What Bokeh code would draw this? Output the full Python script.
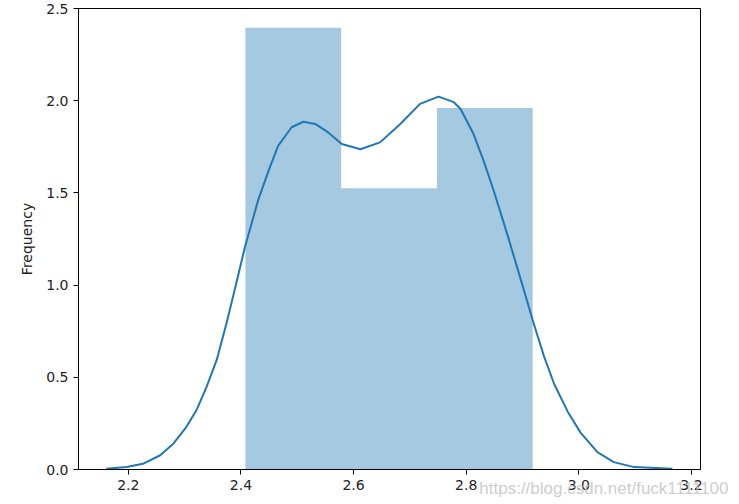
from bokeh.plotting import figure
from bokeh.models import Range1d, Title, FixedTicker, PrintfTickFormatter
from bokeh.embed import file_html
from bokeh.resources import INLINE

# Histogram (density) data
bin_edges = [2.408, 2.578, 2.748, 2.918]
density = [2.396, 1.525, 1.961]

# KDE curve
kde_x = [2.161, 2.197, 2.226, 2.256, 2.280, 2.303, 2.321, 2.339, 2.357, 2.375,
         2.391, 2.407, 2.431, 2.449, 2.466, 2.490, 2.511, 2.532, 2.555, 2.579,
         2.612, 2.647, 2.683, 2.718, 2.751, 2.778, 2.790, 2.813, 2.831, 2.849,
         2.873, 2.896, 2.920, 2.938, 2.956, 2.980, 3.003, 3.033, 3.062, 3.098,
         3.166]
kde_y = [0.004, 0.013, 0.031, 0.076, 0.140, 0.230, 0.321, 0.448, 0.594, 0.800,
         1.000, 1.205, 1.465, 1.619, 1.755, 1.856, 1.886, 1.874, 1.828, 1.765,
         1.737, 1.774, 1.874, 1.983, 2.022, 1.992, 1.955, 1.819, 1.674, 1.510,
         1.275, 1.039, 0.790, 0.615, 0.465, 0.315, 0.200, 0.094, 0.040, 0.013,
         0.004]

x_ticks = [2.2, 2.4, 2.6, 2.8, 3.0, 3.2]
y_ticks = [0.0, 0.5, 1.0, 1.5, 2.0, 2.5]
y_label = "Frequency"
watermark = "https://blog.csdn.net/fuck1111100"

p = figure(width=731, height=501, output_backend="svg", toolbar_location=None,
           x_range=Range1d(2.1116, 3.216), y_range=Range1d(0, 2.5),
           min_border_left=78, min_border_right=31, min_border_top=8,
           min_border_bottom=32)

p.quad(left=bin_edges[:-1], right=bin_edges[1:], top=density, bottom=0,
       fill_color="#1f77b4", fill_alpha=0.4, line_color=None)
p.line(kde_x, kde_y, line_color="#1f77b4", line_width=2, line_join="round")

p.grid.visible = False
p.outline_line_color = "black"
p.outline_line_alpha = 1
p.outline_line_width = 1
p.background_fill_color = "white"
p.border_fill_color = "white"

for ax, ticks in ((p.xaxis, x_ticks), (p.yaxis, y_ticks)):
    ax.ticker = FixedTicker(ticks=ticks)
    ax.formatter = PrintfTickFormatter(format="%.1f")
    ax.minor_tick_line_color = None
    ax.major_tick_out = 5
    ax.major_tick_in = 0
    ax.axis_line_color = "black"
    ax.major_tick_line_color = "black"
    ax.major_label_text_font = "DejaVu Sans"
    ax.major_label_text_font_size = "14px"
    ax.major_label_text_color = "#222222"
    ax.major_label_standoff = 5

p.yaxis.axis_label = y_label
p.yaxis.axis_label_text_font = "DejaVu Sans"
p.yaxis.axis_label_text_font_size = "14px"
p.yaxis.axis_label_text_font_style = "normal"
p.yaxis.axis_label_text_color = "#222222"
p.yaxis.axis_label_standoff = 8

# watermark drawn in the border below the axis (a title panel is not clipped)
wm = Title(text=watermark, align="right", offset=-28, standoff=-27,
           vertical_align="top", text_font="Liberation Sans",
           text_font_size="17px", text_font_style="normal",
           text_color="#c4c4c4", text_alpha=0.85)
p.add_layout(wm, "below")

open("out.html", "w").write(file_html(p, INLINE))
